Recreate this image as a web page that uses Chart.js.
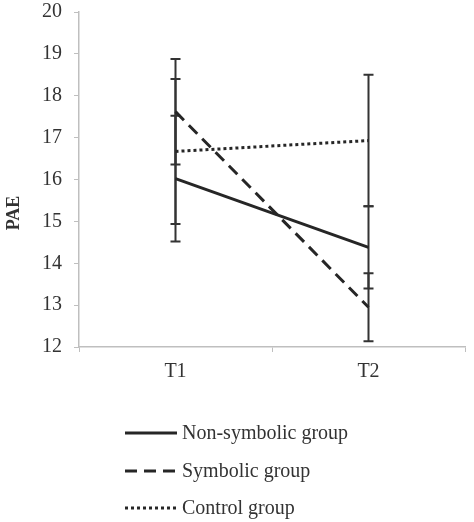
<!DOCTYPE html>
<html>
<head>
<meta charset="utf-8">
<script src="https://cdn.jsdelivr.net/npm/chart.js@4"></script>
<style>
html,body{margin:0;padding:0;background:#fff;}
#wrap{width:474px;height:522px;position:relative;}
</style>
</head>
<body>
<div id="wrap"><canvas id="c" width="474" height="522"></canvas></div>
<script>
const categories = ['T1', 'T2'];
const yTicks = [12, 13, 14, 15, 16, 17, 18, 19, 20];
const nonSymbolic = [16.02, 14.38];
const nonSymbolicSD = [1.50, 0.98];
const symbolic = [17.62, 12.95];
const symbolicSD = [1.26, 0.81];
const control = [16.67, 16.93];
const controlSD = [1.73, 1.57];
const seriesNames = ['Non-symbolic group', 'Symbolic group', 'Control group'];
const yTitle = 'PAE';

const FONT = '"Liberation Serif", "Times New Roman", serif';
const TEXT = '#333333';
const AXIS = '#bfbfbf';
const LINE = '#262626';

const errorBars = {
  id: 'errorBars',
  beforeDatasetsDraw(chart) {
    const ctx = chart.ctx;
    const y = chart.scales.y;
    const x = chart.scales.x;
    ctx.save();
    ctx.strokeStyle = '#333';
    ctx.lineWidth = 2;
    chart.data.datasets.forEach(ds => {
      ds.data.forEach((v, i) => {
        const px = x.getPixelForValue(i);
        const hi = y.getPixelForValue(v + ds.sd[i]);
        const lo = y.getPixelForValue(v - ds.sd[i]);
        ctx.beginPath();
        ctx.moveTo(px, hi); ctx.lineTo(px, lo);
        ctx.moveTo(px - 5, hi); ctx.lineTo(px + 5, hi);
        ctx.moveTo(px - 5, lo); ctx.lineTo(px + 5, lo);
        ctx.stroke();
      });
    });
    ctx.restore();
  }
};

const customLegend = {
  id: 'customLegend',
  afterDraw(chart) {
    const ctx = chart.ctx;
    const rows = [433, 471, 508];
    ctx.save();
    chart.data.datasets.forEach((ds, i) => {
      ctx.strokeStyle = LINE;
      ctx.lineWidth = 3;
      ctx.setLineDash(ds.borderDash || []);
      ctx.beginPath();
      ctx.moveTo(125, rows[i]);
      ctx.lineTo(177, rows[i]);
      ctx.stroke();
      ctx.setLineDash([]);
      ctx.fillStyle = TEXT;
      ctx.font = '20px ' + FONT;
      ctx.textAlign = 'left';
      ctx.textBaseline = 'middle';
      ctx.fillText(ds.label, 182, rows[i] + 1);
    });
    // y title
    ctx.translate(14, 213);
    ctx.rotate(-Math.PI / 2);
    ctx.font = 'bold 18px ' + FONT;
    ctx.textAlign = 'center';
    ctx.textBaseline = 'middle';
    ctx.fillText(yTitle, 0, 0);
    ctx.restore();
  }
};

new Chart(document.getElementById('c'), {
  type: 'line',
  data: {
    labels: categories,
    datasets: [
      { label: seriesNames[0], data: nonSymbolic, sd: nonSymbolicSD, borderDash: [] },
      { label: seriesNames[1], data: symbolic, sd: symbolicSD, borderDash: [12, 7] },
      { label: seriesNames[2], data: control, sd: controlSD, borderDash: [3, 3] }
    ].map(d => Object.assign(d, {
      borderColor: LINE, borderWidth: 3, pointRadius: 0, fill: false, tension: 0,
      borderCapStyle: 'butt'
    }))
  },
  options: {
    responsive: false,
    animation: false,
    events: [],
    layout: { padding: { top: 12, right: 9, bottom: 125, left: 0 } },
    plugins: { legend: { display: false }, tooltip: { enabled: false } },
    scales: {
      x: {
        offset: true,
        grid: { offset: true, drawOnChartArea: false, drawTicks: true, tickLength: 5, color: AXIS },
        border: { color: AXIS, width: 1.5 },
        ticks: { color: TEXT, font: { family: FONT, size: 20 }, padding: 8 },
        afterFit(s) { s.height = 50; s.paddingLeft = 0; s.paddingRight = 0; }
      },
      y: {
        min: 12, max: 20,
        afterBuildTicks(s) { s.ticks = yTicks.map(v => ({ value: v })); },
        grid: { drawOnChartArea: false, drawTicks: true, tickLength: 5, color: AXIS },
        border: { color: AXIS, width: 1.5 },
        ticks: { color: TEXT, font: { family: FONT, size: 20 }, padding: 12 },
        afterFit(s) { s.width = 79; s.paddingTop = 0; s.paddingBottom = 0; }
      }
    }
  },
  plugins: [errorBars, customLegend]
});
</script>
</body>
</html>
